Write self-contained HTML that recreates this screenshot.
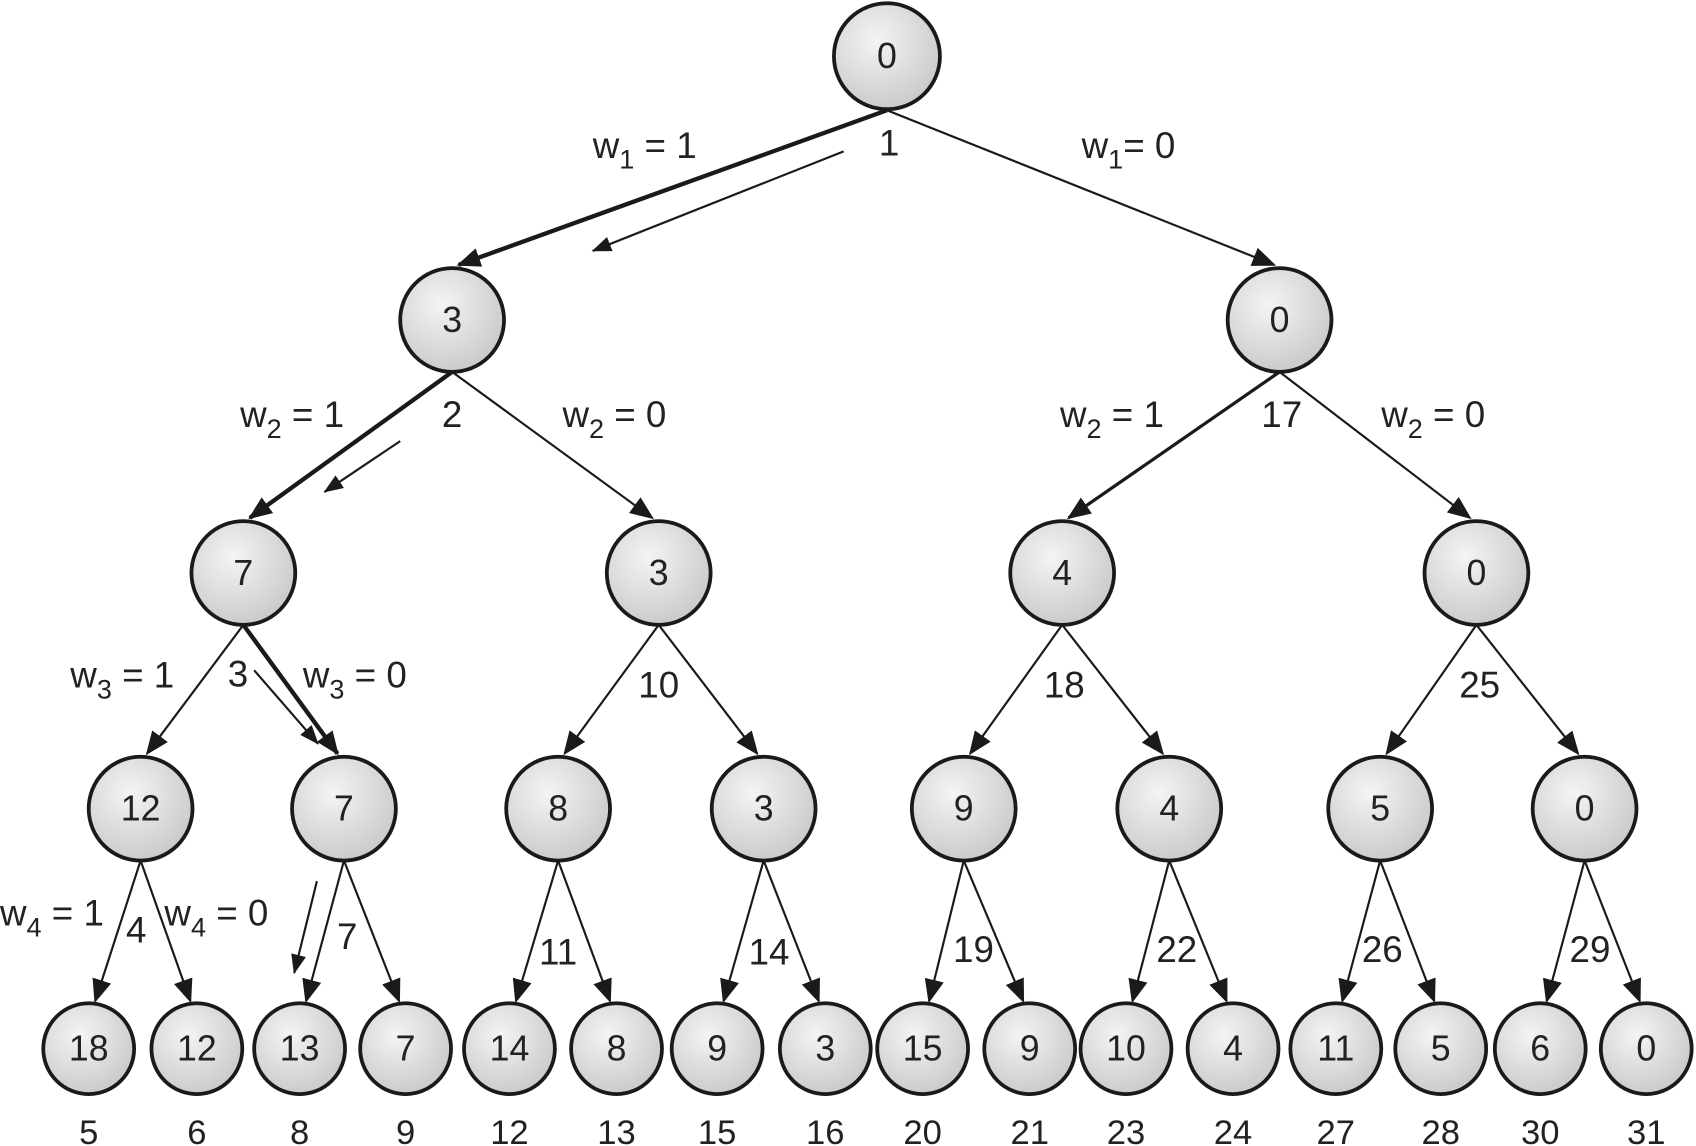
<!DOCTYPE html>
<html><head><meta charset="utf-8"><style>
html,body{margin:0;padding:0;background:#fff;}
svg{display:block;}
text{font-family:"Liberation Sans",sans-serif;fill:#222;}
</style></head><body>
<svg width="1696" height="1146" viewBox="0 0 1568 1060" preserveAspectRatio="none">
<defs>
<radialGradient id="g" cx="40%" cy="35%" r="70%">
<stop offset="0" stop-color="#f4f4f4"/><stop offset="1" stop-color="#c8c8c8"/></radialGradient>
<marker id="a" markerUnits="userSpaceOnUse" markerWidth="22" markerHeight="18" refX="20" refY="9" orient="auto">
<path d="M0,0 L22,9 L0,18 Z" fill="#1a1a1a"/></marker>
<marker id="b" markerUnits="userSpaceOnUse" markerWidth="18" markerHeight="14" refX="17" refY="7" orient="auto">
<path d="M0,0 L18,7 L0,14 Z" fill="#1a1a1a"/></marker>
</defs>
<g stroke="#1a1a1a" fill="none" stroke-width="2">
<line x1="820" y1="102" x2="424" y2="245" stroke-width="4" marker-end="url(#a)"/>
<line x1="820" y1="102" x2="1178" y2="245" marker-end="url(#a)"/>
<line x1="418" y1="344" x2="231" y2="479" stroke-width="4" marker-end="url(#a)"/>
<line x1="418" y1="344" x2="603" y2="479" marker-end="url(#a)"/>
<line x1="1183" y1="344" x2="988" y2="479" stroke-width="3" marker-end="url(#a)"/>
<line x1="1183" y1="344" x2="1359" y2="479" marker-end="url(#a)"/>
<line x1="225" y1="578" x2="136" y2="697" marker-end="url(#a)"/>
<line x1="225" y1="578" x2="312" y2="697" stroke-width="4" marker-end="url(#a)"/>
<line x1="609" y1="578" x2="522" y2="697" marker-end="url(#a)"/>
<line x1="609" y1="578" x2="700" y2="697" marker-end="url(#a)"/>
<line x1="982" y1="578" x2="897" y2="697" marker-end="url(#a)"/>
<line x1="982" y1="578" x2="1075" y2="697" marker-end="url(#a)"/>
<line x1="1365" y1="578" x2="1282" y2="697" marker-end="url(#a)"/>
<line x1="1365" y1="578" x2="1459" y2="697" marker-end="url(#a)"/>
<line x1="130" y1="796" x2="88" y2="926" marker-end="url(#a)"/>
<line x1="130" y1="796" x2="176" y2="926" marker-end="url(#a)"/>
<line x1="318" y1="796" x2="283" y2="926" marker-end="url(#a)"/>
<line x1="318" y1="796" x2="369" y2="926" marker-end="url(#a)"/>
<line x1="516" y1="796" x2="477" y2="926" marker-end="url(#a)"/>
<line x1="516" y1="796" x2="564" y2="926" marker-end="url(#a)"/>
<line x1="706" y1="796" x2="669" y2="926" marker-end="url(#a)"/>
<line x1="706" y1="796" x2="757" y2="926" marker-end="url(#a)"/>
<line x1="891" y1="796" x2="859" y2="926" marker-end="url(#a)"/>
<line x1="891" y1="796" x2="946" y2="926" marker-end="url(#a)"/>
<line x1="1081" y1="796" x2="1047" y2="926" marker-end="url(#a)"/>
<line x1="1081" y1="796" x2="1134" y2="926" marker-end="url(#a)"/>
<line x1="1276" y1="796" x2="1241" y2="926" marker-end="url(#a)"/>
<line x1="1276" y1="796" x2="1326" y2="926" marker-end="url(#a)"/>
<line x1="1465" y1="796" x2="1430" y2="926" marker-end="url(#a)"/>
<line x1="1465" y1="796" x2="1516" y2="926" marker-end="url(#a)"/>
<line x1="780" y1="140" x2="548" y2="232" marker-end="url(#b)"/>
<line x1="370" y1="408" x2="300" y2="455" marker-end="url(#b)"/>
<line x1="235" y1="620" x2="294" y2="688" marker-end="url(#b)"/>
<line x1="293" y1="815" x2="272" y2="900" marker-end="url(#b)"/>
</g>
<g fill="url(#g)" stroke="#1a1a1a" stroke-width="3.5">
<circle cx="820" cy="52" r="49"/>
<circle cx="418" cy="296" r="48"/><circle cx="1183" cy="296" r="48"/>
<circle cx="225" cy="530" r="48"/><circle cx="609" cy="530" r="48"/><circle cx="982" cy="530" r="48"/><circle cx="1365" cy="530" r="48"/>
<circle cx="130" cy="748" r="48"/><circle cx="318" cy="748" r="48"/><circle cx="516" cy="748" r="48"/><circle cx="706" cy="748" r="48"/>
<circle cx="891" cy="748" r="48"/><circle cx="1081" cy="748" r="48"/><circle cx="1276" cy="748" r="48"/><circle cx="1465" cy="748" r="48"/>
<circle cx="82" cy="970" r="42"/><circle cx="182" cy="970" r="42"/><circle cx="277" cy="970" r="42"/><circle cx="375" cy="970" r="42"/>
<circle cx="471" cy="970" r="42"/><circle cx="570" cy="970" r="42"/><circle cx="663" cy="970" r="42"/><circle cx="763" cy="970" r="42"/>
<circle cx="853" cy="970" r="42"/><circle cx="952" cy="970" r="42"/><circle cx="1041" cy="970" r="42"/><circle cx="1140" cy="970" r="42"/>
<circle cx="1235" cy="970" r="42"/><circle cx="1332" cy="970" r="42"/><circle cx="1424" cy="970" r="42"/><circle cx="1522" cy="970" r="42"/>
</g>
<g font-size="33" text-anchor="middle">
<text x="820" y="63">0</text>
<text x="418" y="307">3</text><text x="1183" y="307">0</text>
<text x="225" y="541">7</text><text x="609" y="541">3</text><text x="982" y="541">4</text><text x="1365" y="541">0</text>
<text x="130" y="759">12</text><text x="318" y="759">7</text><text x="516" y="759">8</text><text x="706" y="759">3</text>
<text x="891" y="759">9</text><text x="1081" y="759">4</text><text x="1276" y="759">5</text><text x="1465" y="759">0</text>
<text x="82" y="981">18</text><text x="182" y="981">12</text><text x="277" y="981">13</text><text x="375" y="981">7</text>
<text x="471" y="981">14</text><text x="570" y="981">8</text><text x="663" y="981">9</text><text x="763" y="981">3</text>
<text x="853" y="981">15</text><text x="952" y="981">9</text><text x="1041" y="981">10</text><text x="1140" y="981">4</text>
<text x="1235" y="981">11</text><text x="1332" y="981">5</text><text x="1424" y="981">6</text><text x="1522" y="981">0</text>
<g font-size="32">
<text x="82" y="1058">5</text><text x="182" y="1058">6</text><text x="277" y="1058">8</text><text x="375" y="1058">9</text>
<text x="471" y="1058">12</text><text x="570" y="1058">13</text><text x="663" y="1058">15</text><text x="763" y="1058">16</text>
<text x="853" y="1058">20</text><text x="952" y="1058">21</text><text x="1041" y="1058">23</text><text x="1140" y="1058">24</text>
<text x="1235" y="1058">27</text><text x="1332" y="1058">28</text><text x="1424" y="1058">30</text><text x="1522" y="1058">31</text>
</g>
<g font-size="34">
<text x="822" y="144">1</text>
<text x="418" y="395">2</text><text x="1185" y="395">17</text>
<text x="220" y="635">3</text><text x="609" y="645">10</text><text x="984" y="645">18</text><text x="1368" y="645">25</text>
<text x="126" y="872">4</text><text x="321" y="878">7</text><text x="516" y="892">11</text><text x="711" y="892">14</text>
<text x="900" y="890">19</text><text x="1088" y="890">22</text><text x="1278" y="890">26</text><text x="1470" y="890">29</text>
</g>
</g>
<g font-size="34">
<text x="548" y="146">w<tspan font-size="25" dy="10">1</tspan><tspan dy="-10"> = 1</tspan></text>
<text x="1000" y="146">w<tspan font-size="25" dy="10">1</tspan><tspan dy="-10">= 0</tspan></text>
<text x="222" y="395">w<tspan font-size="25" dy="10">2</tspan><tspan dy="-10"> = 1</tspan></text>
<text x="520" y="395">w<tspan font-size="25" dy="10">2</tspan><tspan dy="-10"> = 0</tspan></text>
<text x="980" y="395">w<tspan font-size="25" dy="10">2</tspan><tspan dy="-10"> = 1</tspan></text>
<text x="1277" y="395">w<tspan font-size="25" dy="10">2</tspan><tspan dy="-10"> = 0</tspan></text>
<text x="65" y="636">w<tspan font-size="25" dy="10">3</tspan><tspan dy="-10"> = 1</tspan></text>
<text x="280" y="636">w<tspan font-size="25" dy="10">3</tspan><tspan dy="-10"> = 0</tspan></text>
<text x="0" y="856">w<tspan font-size="25" dy="10">4</tspan><tspan dy="-10"> = 1</tspan></text>
<text x="152" y="856">w<tspan font-size="25" dy="10">4</tspan><tspan dy="-10"> = 0</tspan></text>
</g>
</svg>
</body></html>
